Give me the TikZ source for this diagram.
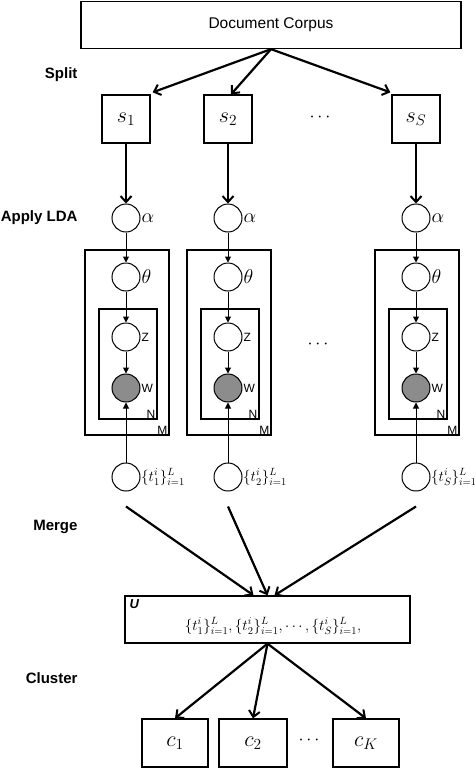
\documentclass[tikz,border=0pt]{standalone}
\usepackage{fix-cm}
\usepackage{fontspec}
\setmainfont{Liberation Sans}
\usetikzlibrary{arrows.meta}
\begin{document}
\begin{tikzpicture}[x=1pt,y=-1pt,
  box/.style={draw,line width=1.3pt,fill=white,inner sep=0pt},
  circ/.style={draw,circle,line width=1pt,minimum size=28pt,inner sep=0pt},
  obs/.style={circ,fill=black!45},
  plate/.style={draw,line width=1.1pt,inner sep=0pt},
  bigarr/.style={line width=2.2pt,-{Straight Barb[length=6pt,width=11pt,line width=2pt]}},
  smallarr/.style={line width=1pt,-{Triangle[length=6pt,width=6pt]}},
  steplbl/.style={font=\fontsize{15}{18}\selectfont\bfseries,anchor=east},
  sym/.style={font=\fontsize{20}{22}\selectfont,anchor=west,inner sep=1pt},
  bigmath/.style={font=\fontsize{22}{24}\selectfont},
  sanslbl/.style={font=\fontsize{12}{14}\selectfont,inner sep=0pt}]
\useasboundingbox (0,0) rectangle (474,768);
\node[box,minimum width=380pt,minimum height=47pt] (doc) at (271,25) {\fontsize{15.5}{18}\selectfont Document Corpus};
\node[steplbl] (lsplit) at (81,75) {Split};
\node[steplbl] (llda) at (81,218) {Apply LDA};
\node[steplbl] (lmerge) at (81,527) {Merge};
\node[steplbl] (lclust) at (81,678) {Cluster};
% columns
\foreach \i/\x/\sub in {1/126/1,2/228/2,3/416/S}{
  \node[box,minimum width=48pt,minimum height=48pt,bigmath] (s\i) at (\x,119) {$s_{\sub}$};
  \node[plate,minimum width=84pt,minimum height=185pt] (m\i) at (\x+1,342.5) {};
  \node[plate,minimum width=58pt,minimum height=110pt] (n\i) at (\x+2,364) {};
  \node[sanslbl,anchor=south east] (mlab\i) at ([shift={(-2,-1)}]m\i.south east) {M};
  \node[sanslbl,anchor=south east] (nlab\i) at ([shift={(-2,-1)}]n\i.south east) {N};
  \node[circ] (a\i) at (\x,218) {};
  \node[circ] (th\i) at (\x,277) {};
  \node[circ] (z\i) at (\x,337) {};
  \node[obs] (w\i) at (\x,388) {};
  \node[circ] (t\i) at (\x,477) {};
  \node[sym] (al\i) at (a\i.east) {$\alpha$};
  \node[sym] (tl\i) at (th\i.east) {$\theta$};
  \node[sanslbl,anchor=west] (zl\i) at ([xshift=1]z\i.east) {Z};
  \node[sanslbl,anchor=west] (wl\i) at ([xshift=1]w\i.east) {W};
  \node[sym,inner sep=0.5pt,font=\fontsize{15}{17}\selectfont] (tt\i) at (t\i.east) {$\{t_{\sub}^{i}\}_{i=1}^{L}$};
  \draw[bigarr] (s\i) -- (a\i);
  \draw[smallarr] (a\i) -- (th\i);
  \draw[smallarr] (th\i) -- (z\i);
  \draw[smallarr] (z\i) -- (w\i);
  \draw[smallarr] (t\i) -- (w\i);
}
\node (dots1) at (320,117) {\fontsize{18}{20}\selectfont$\cdots$};
\node (dots2) at (318,344) {\fontsize{18}{20}\selectfont$\cdots$};
\draw[bigarr] (doc.south) -- ([shift={(2,-2)}]s1.north east);
\draw[bigarr] (doc.south) -- ([xshift=3]s2.north);
\draw[bigarr] (doc.south) -- ([shift={(-1,-2)}]s3.north west);
% U
\node[box,minimum width=285pt,minimum height=47pt] (U) at (267.5,619.5) {};
\node[anchor=north west,inner sep=0pt,font=\fontsize{13}{15}\selectfont\bfseries\itshape] (Ul) at ([shift={(5,4)}]U.north west) {U};
\node[font=\fontsize{15}{17}\selectfont] (Ut) at (273,626) {$\{t_1^{i}\}_{i=1}^{L},\{t_2^{i}\}_{i=1}^{L},\cdots,\{t_S^{i}\}_{i=1}^{L},$};
\draw[bigarr] ([yshift=-15]t1.south) -- ([xshift=-14]U.north);
\draw[bigarr] ([yshift=-15]t2.south) -- ([xshift=0]U.north);
\draw[bigarr] ([yshift=-15]t3.south) -- ([xshift=7]U.north);
% clusters
\node[box,minimum width=66pt,minimum height=48pt,bigmath] (c1) at (175,743) {$c_1$};
\node[box,minimum width=68pt,minimum height=48pt,bigmath] (c2) at (253,743) {$c_2$};
\node[box,minimum width=66pt,minimum height=48pt,bigmath] (c3) at (366,743) {$c_K$};
\node (dots3) at (309,740) {\fontsize{18}{20}\selectfont$\cdots$};
\draw[bigarr] (U.south) -- (c1.north);
\draw[bigarr] (U.south) -- (c2.north);
\draw[bigarr] (U.south) -- (c3.north);
\end{tikzpicture}
\end{document}
